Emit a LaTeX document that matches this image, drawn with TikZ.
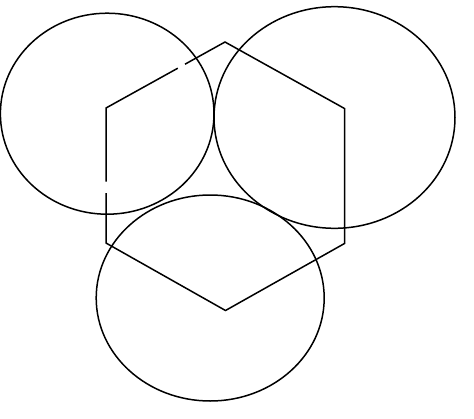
\documentclass[tikz,border=0pt]{standalone}
\usepackage{tikz}
\tikzstyle{ring} = [draw, line width=1.5pt]
\tikzstyle{hexline} = [draw, line width=1.5pt, line join=miter]

\begin{document}
\begin{tikzpicture}[x=1pt, y=-1pt]
   \useasboundingbox (0,0) rectangle (474,418);
   % hexagon corners
   \coordinate (top)   at (225,42);
   \coordinate (ur)    at (344.5,108.5);
   \coordinate (lr)    at (344.5,243.5);
   \coordinate (bot)   at (225.5,310.5);
   \coordinate (ll)    at (106,243);
   \coordinate (ul)    at (106,108);
   % ends of the two gaps
   \coordinate (ga) at (185,64.2);
   \coordinate (gb) at (177.8,68.2);
   \coordinate (gc) at (106,193);
   \coordinate (gd) at (106,181.5);
   \draw[hexline] (ga) -- (top) -- (ur) -- (lr) -- (bot) -- (ll) -- (gc);
   \draw[hexline] (gd) -- (ul) -- (gb);
   % the three rings
   \draw[ring] (107.2,113.7) ellipse [x radius=106.8, y radius=100.5];
   \draw[ring] (334.5,117.5) ellipse [x radius=120.5, y radius=110.8];
   \draw[ring] (210.2,298) ellipse [x radius=114, y radius=103];
\end{tikzpicture}
\end{document}
